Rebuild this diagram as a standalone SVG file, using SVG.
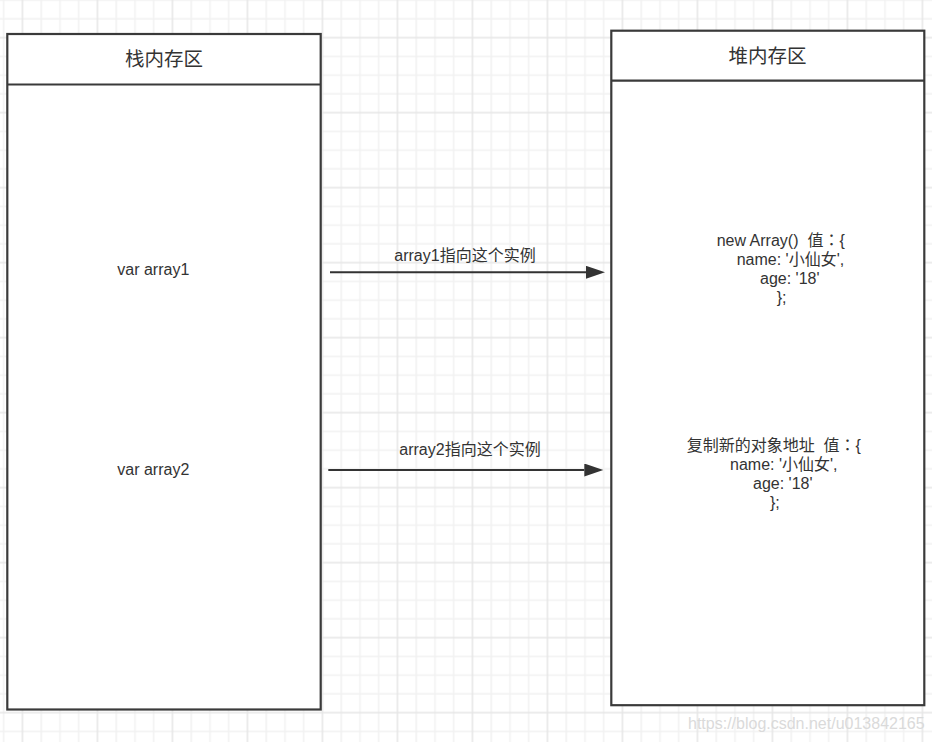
<svg xmlns="http://www.w3.org/2000/svg" width="932" height="742" viewBox="0 0 932 742">
<style>
.t{font-family:"Liberation Sans","Noto Sans CJK SC",sans-serif;font-size:16px;fill:#333;white-space:pre}
.c{font-family:"Noto Sans CJK TC",sans-serif}
.h{font-family:"Liberation Sans","Noto Sans CJK SC",sans-serif;font-size:19.5px;fill:#333;text-anchor:middle}
.box{fill:#fff;stroke:#3a3a3a;stroke-width:2.2}
.conn{stroke:#333;stroke-width:2;fill:none;marker-end:url(#arr)}
.wm{font-family:"Liberation Sans",sans-serif;font-size:16px;fill:#dadada}
</style>
<defs>
<pattern id="grid" patternUnits="userSpaceOnUse" x="-5.625" y="-9.375" width="75" height="75">
<g stroke="#f1f1f1" stroke-width="1.5">
<line x1="9.375" y1="0" x2="9.375" y2="75"/>
<line x1="46.875" y1="0" x2="46.875" y2="75"/>
<line x1="65.625" y1="0" x2="65.625" y2="75"/>
<line x1="0" y1="9.375" x2="75" y2="9.375"/>
<line x1="0" y1="28.125" x2="75" y2="28.125"/>
<line x1="0" y1="65.625" x2="75" y2="65.625"/>
</g>
<g stroke="#e6e6e6" stroke-width="1.5">
<line x1="28.125" y1="0" x2="28.125" y2="75"/>
<line x1="0" y1="46.875" x2="75" y2="46.875"/>
</g>
</pattern>
<marker id="arr" markerUnits="userSpaceOnUse" markerWidth="20" markerHeight="14" refX="0" refY="6.5" orient="auto">
<path d="M0,0 L19,6.5 L0,13 z" fill="#333"/>
</marker>
</defs>
<rect width="932" height="742" fill="#fff"/>
<rect width="932" height="742" fill="url(#grid)"/>

<g id="stack">
<rect class="box" x="7.3" y="34" width="313.4" height="675.5"/>
<line x1="7.3" y1="84.5" x2="320.7" y2="84.5" stroke="#3a3a3a" stroke-width="2.2"/>
<text class="h" x="164" y="66">栈内存区</text>
</g>
<g id="heap">
<rect class="box" x="611.3" y="30.7" width="313" height="674.5"/>
<line x1="611.3" y1="80.7" x2="924.3" y2="80.7" stroke="#3a3a3a" stroke-width="2.2"/>
<text class="h" x="767.5" y="62.5">堆内存区</text>
</g>

<g id="var1"><text class="t" x="117.3" y="275">var array1</text></g>
<g id="var2"><text class="t" x="117.3" y="475">var array2</text></g>

<g id="heap1">
<text class="t" x="716.7" y="246">new Array()  值<tspan class="c">：</tspan>{</text>
<text class="t" x="736.7" y="265">name: '小仙女',</text>
<text class="t" x="760" y="284">age: '18'</text>
<text class="t" x="776.7" y="303">};</text>
</g>
<g id="heap2">
<text class="t" x="686.7" y="451">复制新的对象地址  值<tspan class="c">：</tspan>{</text>
<text class="t" x="730" y="470">name: '小仙女',</text>
<text class="t" x="753" y="489">age: '18'</text>
<text class="t" x="770" y="508">};</text>
</g>

<g id="connectors">
<line class="conn" x1="330" y1="272.3" x2="586" y2="272.3"/>
<text class="t" x="465" y="261" text-anchor="middle">array1指向这个实例</text>
<line class="conn" x1="328.3" y1="470" x2="584.3" y2="470"/>
<text class="t" x="470" y="455" text-anchor="middle">array2指向这个实例</text>
</g>

<text class="wm" x="688" y="729">https://blog.csdn.net/u013842165</text>
</svg>
